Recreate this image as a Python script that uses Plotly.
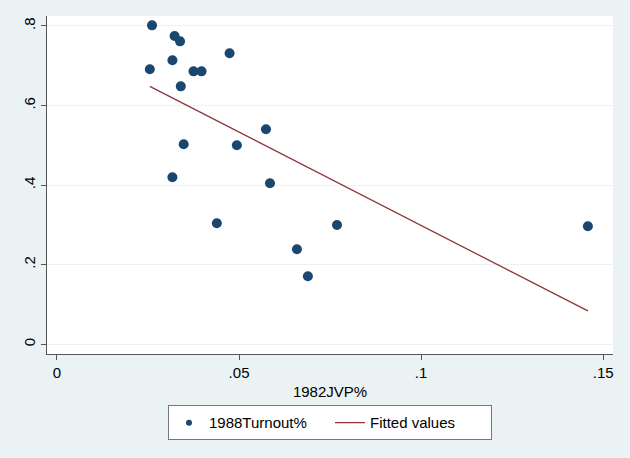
import numpy as np
import plotly.graph_objects as go

# Data
jvp1982 = [0.0261, 0.0323, 0.0338, 0.0474, 0.0317, 0.0255, 0.0375, 0.0397, 0.0340,
           0.0574, 0.0348, 0.0494, 0.0317, 0.0585, 0.0439, 0.0659, 0.0689, 0.0769, 0.1458]
turnout1988 = [0.8015, 0.7746, 0.7613, 0.7312, 0.7136, 0.6910, 0.6859, 0.6859, 0.6482,
               0.5402, 0.5025, 0.5000, 0.4196, 0.4045, 0.3040, 0.2387, 0.1709, 0.2998, 0.2965]

x_ticks = [0, 0.05, 0.1, 0.15]
x_ticktext = ["0", ".05", ".1", ".15"]
y_ticks = [0, 0.2, 0.4, 0.6, 0.8]
y_ticktext = ["0", ".2", ".4", ".6", ".8"]

# Linear fit (fitted values)
xa = np.array(jvp1982)
ya = np.array(turnout1988)
slope, intercept = np.polyfit(xa, ya, 1)
fit_x = np.array([xa.min(), xa.max()])
fit_y = intercept + slope * fit_x

bg = "#EAF2F3"
navy = "#1A476F"
maroon = "#90353B"
font = "Liberation Sans, Arial, Helvetica, sans-serif"

fig = go.Figure()
fig.add_trace(go.Scatter(
    x=jvp1982, y=turnout1988, mode="markers", name="1988Turnout%",
    marker=dict(color=navy, size=10, line=dict(width=0)),
    showlegend=False,
))
# legend-only entry with a smaller symbol, as in the reference legend
fig.add_trace(go.Scatter(
    x=[None], y=[None], mode="markers", name="1988Turnout%",
    marker=dict(color=navy, size=6, line=dict(width=0)),
))
fig.add_trace(go.Scatter(
    x=fit_x, y=fit_y, mode="lines", name="Fitted values",
    line=dict(color=maroon, width=1.3),
))

fig.update_layout(
    width=630, height=458,
    margin=dict(l=47, r=17, t=16, b=104),
    paper_bgcolor=bg, plot_bgcolor="white",
    font=dict(family=font, size=15, color="black"),
    showlegend=True,
    legend=dict(
        orientation="h", x=0.5, xanchor="center", y=-0.152, yanchor="top",
        bgcolor="white", bordercolor="#777777", borderwidth=1,
        font=dict(size=15), entrywidth=116, itemwidth=30,
    ),
    xaxis=dict(
        range=[-0.00274, 0.1527],
        tickvals=x_ticks, ticktext=x_ticktext,
        ticks="outside", ticklen=5, tickcolor="#555555",
        showgrid=False, zeroline=False,
        showline=True, linecolor="#555555", linewidth=1,
        title=dict(text="1982JVP%", standoff=6, font=dict(size=15)),
        tickfont=dict(size=15),
    ),
    yaxis=dict(
        range=[-0.0244, 0.825],
        tickvals=y_ticks, ticktext=y_ticktext,
        ticks="outside", ticklen=5, tickcolor="#555555",
        tickangle=-90,
        showgrid=True, gridcolor=bg, gridwidth=1,
        zeroline=False,
        showline=True, linecolor="#555555", linewidth=1,
        tickfont=dict(size=15),
    ),
)

fig.write_html("out.html")
